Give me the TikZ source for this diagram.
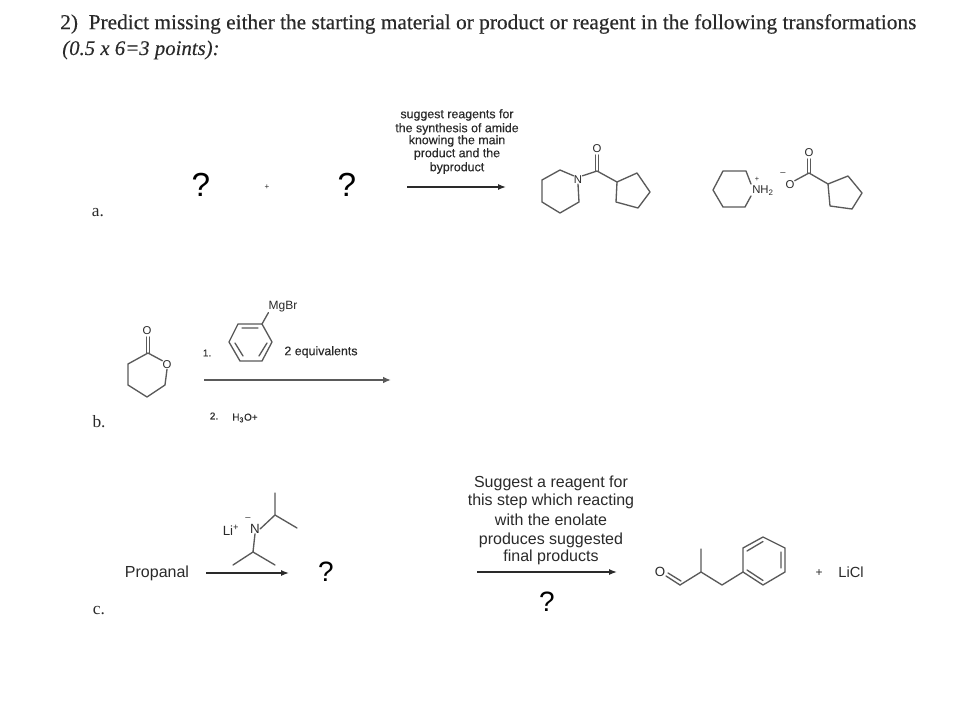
\documentclass[tikz,border=0pt]{standalone}
\usepackage{fontspec}
\setmainfont{Liberation Serif}
\setsansfont{Liberation Sans}
\newfontfamily\hdfont[FakeBold=0.35]{Liberation Serif}
\newfontfamily\hditfont[FakeBold=0.2]{Liberation Serif Italic}
\newfontfamily\sblack[FakeBold=0.2]{Liberation Sans}
\usetikzlibrary{arrows.meta}
\definecolor{bondc}{HTML}{5A5A5A}
\definecolor{txtc}{HTML}{2A2A2A}
\tikzset{
 bond/.style={draw=bondc,line width=1pt,line cap=round,line join=round},
 rxn/.style={draw=txtc,line width=1pt,-{Latex[length=6pt,width=4.5pt]}},
 rxnthick/.style={draw=bondc,line width=2pt,-{Latex[length=6pt,width=5pt]}},
 lab/.style={inner sep=0pt,text=txtc,font=\sffamily\fontsize{8.5}{9}\selectfont},
 rlab/.style={lab,font=\sblack\fontsize{9.3}{10}\selectfont},
 tinylab/.style={lab,font=\sblack\fontsize{7.5}{8}\selectfont},
 captext/.style={lab,font=\sffamily\fontsize{12}{13}\selectfont},
 qm/.style={lab,text=black,font=\sffamily\fontsize{25}{25}\selectfont},
 qmc/.style={lab,text=black,font=\sffamily\fontsize{21}{21}\selectfont},
 hdr/.style={inner sep=0pt,anchor=west,text=txtc},
 itemlab/.style={inner sep=0pt,text=txtc,font=\fontsize{13}{14}\selectfont}
}
\begin{document}
\begin{tikzpicture}[x=0.75pt,y=-0.75pt]
\useasboundingbox (0,0) rectangle (960,720);
\fill[white] (0,0) rectangle (960,720);
% header
\node[hdr] (h1) at (60,24) {\hdfont\fontsize{16}{18}\selectfont 2)\ \ Predict missing either the starting material or product or reagent in the following transformations};
\node[hdr] (h2) at (62,50) {\hditfont\fontsize{15.6}{18}\selectfont (0.5 x 6=3 points):};
\node[itemlab] (la) at (98,213) {a.};
\node[itemlab] (lb) at (99,422) {b.};
\node[itemlab] (lc) at (99,611) {c.};
% part a
\node[qm] (q1) at (201,185) {?};
\node[qm] (q2) at (347,185) {?};
\node[lab,font=\sffamily\fontsize{6}{6}\selectfont] (pl) at (267,187) {+};
\coordinate (a1) at (407,187); \coordinate (a2) at (506,187);
\draw[rxn] (a1) -- (a2);
\node[rlab] (t1) at (457,115) {suggest reagents for};
\node[rlab] (t2) at (457,129) {the synthesis of amide};
\node[rlab] (t3) at (457,141) {knowing the main};
\node[rlab] (t4) at (457,154) {product and the};
\node[rlab] (t5) at (457,168) {byproduct};
% amide
\node[lab] (N1) at (578,180) {N};
\node[lab] (O1) at (597,149) {O};
\coordinate (p1) at (560,170); \coordinate (p2) at (542,180); \coordinate (p3) at (542,202);
\coordinate (p4) at (560,213); \coordinate (p5) at (579,202);
\coordinate (c1) at (597,171); \coordinate (r1) at (617,182); \coordinate (r2) at (637,173);
\coordinate (r3) at (650,192); \coordinate (r4) at (638,208); \coordinate (r5) at (616,202);
\draw[bond] (N1.north west) -- (p1) -- (p2) -- (p3) -- (p4) -- (p5) -- (N1.south);
\draw[bond] (N1.north east) -- (c1) -- (r1);
\draw[bond] (r1) -- (r2) -- (r3) -- (r4) -- (r5) -- cycle;
\draw[bond] (595.5,171) -- (595.5,155) (598.5,171) -- (598.5,155);
% salt
\node[lab,anchor=west] (N2) at (752,190.5) {NH\textsubscript{2}};
\node[lab,font=\sffamily\fontsize{5.5}{6}\selectfont] (Np) at (757,179) {+};
\node[lab] (O2) at (790,185) {O};
\node[lab,font=\sffamily\fontsize{7}{7}\selectfont] (Om) at (783,174) {--};
\node[lab] (O3) at (809,153) {O};
\coordinate (s1) at (746,171); \coordinate (s2) at (723,171); \coordinate (s3) at (713,190);
\coordinate (s4) at (723,207); \coordinate (s5) at (745,207); \coordinate (s6) at (751,196); \coordinate (s7) at (751,184);
\coordinate (c2) at (809,173); \coordinate (u1) at (828,184); \coordinate (u2) at (848,176);
\coordinate (u3) at (862,193); \coordinate (u4) at (852,209); \coordinate (u5) at (830,206);
\draw[bond] (s7) -- (s1) -- (s2) -- (s3) -- (s4) -- (s5) -- (s6);
\draw[bond] (O2.north east) -- (c2) -- (u1);
\draw[bond] (u1) -- (u2) -- (u3) -- (u4) -- (u5) -- cycle;
\draw[bond] (807.5,173) -- (807.5,159) (810.5,173) -- (810.5,159);
% part b
\node[lab] (O4) at (147,331) {O};
\node[lab] (O5) at (167,365) {O};
\coordinate (l1) at (148,353); \coordinate (l2) at (128,364); \coordinate (l3) at (128,385);
\coordinate (l4) at (147,397); \coordinate (l5) at (165,385);
\draw[bond] (O5.north west) -- (l1) -- (l2) -- (l3) -- (l4) -- (l5) -- (O5.south);
\draw[bond] (146.5,353) -- (146.5,337) (149.5,353) -- (149.5,337);
\coordinate (b1) at (262,324); \coordinate (b2) at (238,324); \coordinate (b3) at (229,342);
\coordinate (b4) at (240,361); \coordinate (b5) at (262,361); \coordinate (b6) at (272,342);
\draw[bond] (b1) -- (b2) -- (b3) -- (b4) -- (b5) -- (b6) -- cycle;
\draw[bond] (242,328) -- (258,328) (235,343) -- (243,356) (259,356) -- (267,343);
\node[lab,font=\sffamily\fontsize{9}{9}\selectfont] (mg) at (283,307) {MgBr};
\draw[bond] (b1) -- (mg.south west);
\node[tinylab] (one) at (207,353) {1.};
\node[rlab] (eq) at (321,352) {2 equivalents};
\coordinate (d1) at (204,380); \coordinate (d2) at (391,380);
\draw[rxnthick] (d1) -- (d2);
\node[tinylab] (two) at (214,416) {2.};
\node[tinylab] (h3o) at (245,418) {H\textsubscript{3}O+};
% part c
\node[captext] (prop) at (157,573) {Propanal};
\coordinate (e1) at (206,573); \coordinate (e2) at (289,573);
\draw[rxn] (e1) -- (e2);
\node[lab,font=\sffamily\fontsize{10}{10}\selectfont] (li) at (231,530) {Li\textsuperscript{+}};
\node[lab,font=\sffamily\fontsize{10}{10}\selectfont] (N3) at (255,529) {N};
\node[lab,font=\sffamily\fontsize{7}{7}\selectfont] (Nm) at (248,519) {--};
\coordinate (i1) at (275,515); \coordinate (i2) at (275,493); \coordinate (i3) at (297,528);
\coordinate (j1) at (253,552); \coordinate (j2) at (233,565); \coordinate (j3) at (275,565);
\draw[bond] (N3.east) -- (i1) -- (i2) (i1) -- (i3);
\draw[bond] (N3.south) -- (j1) -- (j2) (j1) -- (j3);
\node[qmc] (q3) at (326,572) {?};
\foreach \n/\py/\s in {1/483/Suggest a reagent for,2/501/this step which reacting,3/520/with the enolate,4/540/produces suggested,5/557/final products}
  \node[captext] (cap\n) at (551,\py) {\s};
\coordinate (f1) at (477,572); \coordinate (f2) at (617,572);
\draw[rxn] (f1) -- (f2);
\node[qmc] (q4) at (547,602) {?};
\node[lab,font=\sffamily\fontsize{10}{10}\selectfont] (O6) at (660,572) {O};
\coordinate (g1) at (680,585); \coordinate (g2) at (701,572); \coordinate (g3) at (701,549);
\coordinate (g4) at (722,585); \coordinate (g5) at (743,572); \coordinate (g6) at (743,548);
\coordinate (g7) at (763,537); \coordinate (g8) at (785,548); \coordinate (g9) at (785,572); \coordinate (g10) at (763,585);
\draw[bond] (g3) -- (g2) -- (g1) (g2) -- (g4) -- (g5);
\draw[bond] (g5) -- (g6) -- (g7) -- (g8) -- (g9) -- (g10) -- cycle;
\draw[bond] (666,576) -- (680,585) (668,573) -- (681,581);
\draw[bond] (747,551) -- (763,541.5) (781,552) -- (781,568) (747,570) -- (763,580.5);
\node[lab,font=\sffamily\fontsize{9}{9}\selectfont] (pl2) at (819,573) {+};
\node[lab,font=\sffamily\fontsize{11}{11}\selectfont] (licl) at (851,572) {LiCl};
\end{tikzpicture}
\end{document}
